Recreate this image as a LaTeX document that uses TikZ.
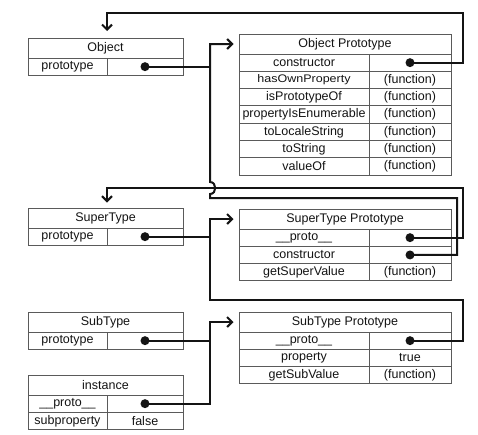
\documentclass[tikz,border=0pt]{standalone}
\usepackage{fontspec}
\setmainfont{Liberation Sans}
\usetikzlibrary{arrows.meta,calc}
\definecolor{bordergray}{HTML}{5A5A5A}
\definecolor{ink}{HTML}{141414}
\begin{document}
\begin{tikzpicture}[x=1pt,y=-1pt,
  cell/.style={draw=bordergray, line width=1pt, minimum height=17.3pt, inner sep=0pt, outer sep=0pt,
    anchor=north west, text=ink, font=\fontsize{12.5}{14}\selectfont},
  hdr/.style={cell, minimum height=20pt},
  dotnode/.style={circle, fill=ink, draw=none, inner sep=0pt, minimum size=9pt},
  conn/.style={line width=2pt, draw=ink},
  arr/.style={conn, -{Straight Barb[length=5pt,width=10pt]}, shorten >=5.5pt}]
\fill[white] (0,0) rectangle (478,434);
\path[use as bounding box] (0,0) rectangle (478,434);

% ---------- Object ----------
\node[hdr, minimum width=155pt] (obj) at (28,38) {Object};
\node[cell, minimum width=79pt] (objk1) at (28,58) {prototype};
\node[cell, minimum width=76pt] (objv1) at (107,58) {};
\node[dotnode] (objd) at (objv1.center) {};

% ---------- Object Prototype ----------
\node[hdr, minimum width=212pt] (op) at (239,34) {Object Prototype};
\foreach \k/\v/\i in {constructor//1,{\scalebox{1}[0.88]{hasOwnProperty}}/(function)/2,isPrototypeOf/(function)/3,
  propertyIsEnumerable/(function)/4,toLocaleString/(function)/5,toString/(function)/6,valueOf/(function)/7}{
  \node[cell, minimum width=130pt] (opk\i) at (239,{54+17.3*(\i-1)}) {\k};
  \node[cell, minimum width=82pt] (opv\i) at (369,{54+17.3*(\i-1)}) {\v};
}
\node[dotnode] (opd1) at (opv1.center) {};

% ---------- SuperType ----------
\node[hdr, minimum width=155pt] (st) at (28,208) {SuperType};
\node[cell, minimum width=79pt] (stk1) at (28,228) {prototype};
\node[cell, minimum width=76pt] (stv1) at (107,228) {};
\node[dotnode] (std) at (stv1.center) {};

% ---------- SuperType Prototype ----------
\node[hdr, minimum width=212pt] (stp) at (239,209) {SuperType Prototype};
\node[cell, minimum width=130pt] (stpk1) at (239,229) {\_\_proto\_\_};
\node[cell, minimum width=82pt] (stpv1) at (369,229) {};
\node[cell, minimum width=130pt] (stpk2) at (239,246.3) {constructor};
\node[cell, minimum width=82pt] (stpv2) at (369,246.3) {};
\node[cell, minimum width=130pt] (stpk3) at (239,263.6) {getSuperValue};
\node[cell, minimum width=82pt] (stpv3) at (369,263.6) {(function)};
\node[dotnode] (stpd1) at (stpv1.center) {};
\node[dotnode] (stpd2) at (stpv2.center) {};

% ---------- SubType ----------
\node[hdr, minimum width=155pt] (sb) at (28,312) {SubType};
\node[cell, minimum width=79pt] (sbk1) at (28,332) {prototype};
\node[cell, minimum width=76pt] (sbv1) at (107,332) {};
\node[dotnode] (sbd) at (sbv1.center) {};

% ---------- SubType Prototype ----------
\node[hdr, minimum width=212pt] (sbp) at (239,312) {SubType Prototype};
\node[cell, minimum width=130pt] (sbpk1) at (239,332) {\_\_proto\_\_};
\node[cell, minimum width=82pt] (sbpv1) at (369,332) {};
\node[cell, minimum width=130pt] (sbpk2) at (239,349.3) {property};
\node[cell, minimum width=82pt] (sbpv2) at (369,349.3) {true};
\node[cell, minimum width=130pt] (sbpk3) at (239,366.6) {getSubValue};
\node[cell, minimum width=82pt] (sbpv3) at (369,366.6) {(function)};
\node[dotnode] (sbpd1) at (sbpv1.center) {};

% ---------- instance ----------
\node[hdr, minimum width=155pt] (ins) at (28,375) {instance};
\node[cell, minimum width=79pt] (insk1) at (28,395) {\_\_proto\_\_};
\node[cell, minimum width=76pt] (insv1) at (107,395) {};
\node[cell, minimum width=79pt] (insk2) at (28,412.3) {subproperty};
\node[cell, minimum width=76pt] (insv2) at (107,412.3) {false};
\node[dotnode] (insd) at (insv1.center) {};

% ---------- bus coordinates ----------
\coordinate (bus) at (210,0);
\coordinate (rt1) at (463,13);
\coordinate (rt2) at (463,188);
\coordinate (rt3) at (457,198);
\coordinate (rt4) at (463,300);

% ---------- connectors ----------
% Object Prototype.constructor -> Object
\draw[arr, shorten >=7pt] (opd1.center) -| (rt1) -- (rt1 -| objv1.west) -- (obj.north -| objv1.west);
% Object.prototype -> Object Prototype
\draw[conn] (objd.center) -- (objd.center -| bus);
% SuperType Prototype.constructor -> Object Prototype (with hop)
\draw[arr] (stpd2.center) -| (rt3) -- (rt3 -| bus) -- (210,194)
  .. controls (217,194) and (217,182) .. (210,182) -- (op.west -| bus) -- (op.west);
% SuperType Prototype.__proto__ -> SuperType
\draw[arr] (stpd1.center) -| (rt2) -- (rt2 -| stv1.west) -- (st.north -| stv1.west);
% SuperType.prototype -> SuperType Prototype
\draw[conn] (std.center) -- (std.center -| bus);
\draw[arr] (sbpd1.center) -| (rt4) -- (rt4 -| bus) -- (stp.west -| bus) -- (stp.west);
% SubType.prototype / instance.__proto__ -> SubType Prototype
\draw[conn] (sbd.center) -- (sbd.center -| bus);
\draw[arr] (insd.center) -- (insd.center -| bus) -- (sbp.west -| bus) -- (sbp.west);
\end{tikzpicture}
\end{document}
